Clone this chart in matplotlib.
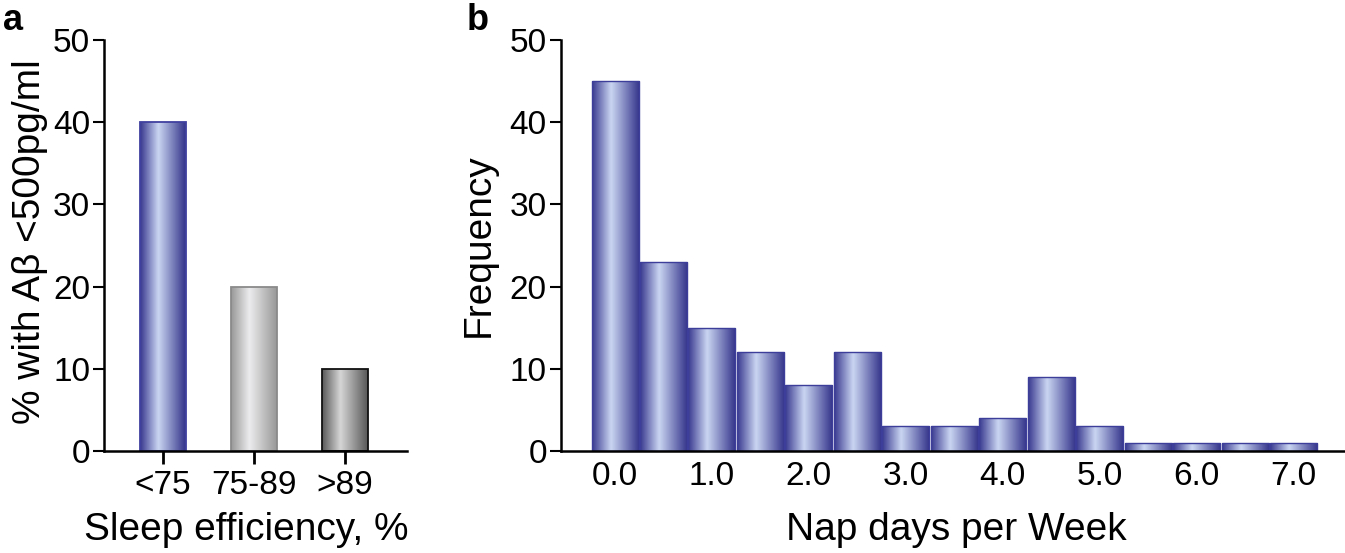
import numpy as np
import matplotlib
matplotlib.use("Agg")
import matplotlib.pyplot as plt
from matplotlib.colors import LinearSegmentedColormap

plt.rcParams['font.family'] = ['Liberation Sans', 'DejaVu Sans']

# --- Data ---
sleep_cats = ["<75", "75-89", ">89"]
sleep_pct = [40, 20, 10]

nap_bins = [0.0, 0.5, 1.0, 1.5, 2.0, 2.5, 3.0, 3.5, 4.0, 4.5, 5.0, 5.5, 6.0, 6.5, 7.0]
nap_freq = [45, 23, 15, 12, 8, 12, 3, 3, 4, 9, 3, 1, 1, 1, 1]
nap_ticks = [0, 1, 2, 3, 4, 5, 6, 7]
nap_ticklabels = ["0.0", "1.0", "2.0", "3.0", "4.0", "5.0", "6.0", "7.0"]

# --- Gradient colormaps (dark edges, light stripe left of centre) ---
def shade(dark, light, dark2=None):
    dark2 = dark2 or dark
    return LinearSegmentedColormap.from_list("g", [(0, dark), (0.4, light), (1, dark2)])

blue_cm = shade("#38388f", "#cad6f2", "#33338a")
gray_cm = shade("#989898", "#ececee", "#989898")
dgray_cm = shade("#585858", "#d6d6d6", "#585858")

grad = np.linspace(0, 1, 200).reshape(1, -1)


def fill_gradient(ax, bars, cmaps):
    for bar, cm in zip(bars, cmaps):
        x, w, h = bar.get_x(), bar.get_width(), bar.get_height()
        im = ax.imshow(grad, cmap=cm, aspect="auto", extent=(x, x + w, 0, h),
                       interpolation="bicubic", zorder=1)
        im.set_clip_path(bar)


def style_axes(ax):
    for s in ["top", "right"]:
        ax.spines[s].set_visible(False)
    for s in ["left", "bottom"]:
        ax.spines[s].set_linewidth(1.8)
    ax.set_ylim(0, 50)
    ax.set_yticks([0, 10, 20, 30, 40, 50])
    ax.tick_params(axis="y", length=8, width=1.5, labelsize=24, pad=2)


fig = plt.figure(figsize=(13.45, 5.53), dpi=100)

# --- Panel a ---
ax1 = fig.add_axes([0.0773, 0.1844, 0.2253, 0.7433])
bars1 = ax1.bar(range(len(sleep_cats)), sleep_pct, width=0.5, facecolor="none",
                edgecolor="none", zorder=2)
fill_gradient(ax1, bars1, [blue_cm, gray_cm, dgray_cm])
for bar, ec in zip(bars1, ["#4040a0", "#8a8a8a", "#111111"]):
    bar.set_edgecolor(ec)
    bar.set_linewidth(1.3)
ax1.set_xlim(-0.65, 2.68)
style_axes(ax1)
ax1.set_xticks(range(len(sleep_cats)))
ax1.set_xticklabels(sleep_cats)
ax1.tick_params(axis="x", length=9, width=2, labelsize=24, pad=5)
ax1.set_ylabel("% with Aβ <500pg/ml", fontsize=28)
ax1.yaxis.set_label_coords(-0.185, 0.51)
ax1.set_xlabel("Sleep efficiency, %", fontsize=28)
ax1.xaxis.set_label_coords(0.47, -0.148)

# --- Panel b ---
ax2 = fig.add_axes([0.4169, 0.1844, 0.5831, 0.7433])
bars2 = ax2.bar(nap_bins, nap_freq, width=0.485, facecolor="none",
                edgecolor="none", zorder=2)
fill_gradient(ax2, bars2, [blue_cm] * len(bars2))
for bar in bars2:
    bar.set_edgecolor("#3d3d9a")
    bar.set_linewidth(1.0)
ax2.set_xlim(-0.56, 7.53)
style_axes(ax2)
ax2.set_xticks(nap_ticks)
ax2.set_xticklabels(nap_ticklabels)
ax2.tick_params(axis="x", length=0, labelsize=24, pad=7)
ax2.set_ylabel("Frequency", fontsize=28)
ax2.yaxis.set_label_coords(-0.082, 0.5)
ax2.set_xlabel("Nap days per Week", fontsize=28)
ax2.xaxis.set_label_coords(0.505, -0.148)

fig.text(0.002, 0.995, "a", fontsize=26, fontweight="bold", va="top", ha="left")
fig.text(0.347, 0.995, "b", fontsize=26, fontweight="bold", va="top", ha="left")

fig.savefig("out.png", dpi=100)
